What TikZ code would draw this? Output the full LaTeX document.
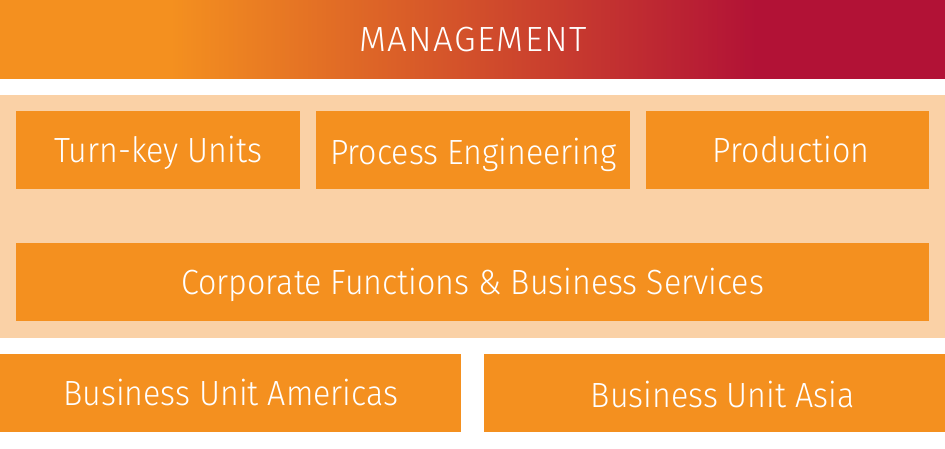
\documentclass[tikz,border=0pt]{standalone}
\usepackage{fontspec}
\setmainfont{Fira Sans}[UprightFont={* Light}, FakeStretch=0.92]
\newfontfamily\mgmtfont{Fira Sans}[UprightFont={* Light}, LetterSpace=4]
\definecolor{orng}{HTML}{F4901F}
\definecolor{lite}{HTML}{FAD1A6}
\definecolor{rd}{HTML}{B21236}
\pgfdeclarehorizontalshading{mgmt}{100bp}{color(0bp)=(orng); color(34bp)=(orng); color(65bp)=(rd); color(100bp)=(rd)}
\begin{document}
\begin{tikzpicture}[x=1pt,y=-1pt,
  box/.style={fill=orng, text=white, font=\fontsize{35}{40}\selectfont, inner sep=0pt,
    anchor=north west, text height=24pt, text depth=0pt, align=center}]
\useasboundingbox (0,0) rectangle (945,449);
\shade[shading=mgmt] (0,0) rectangle (945,79);
\node[text=white, font=\mgmtfont\fontsize{35}{40}\selectfont, text height=24pt, text depth=0pt, inner sep=0pt] (mgmt) at (473,39.5) {MANAGEMENT};
\fill[lite] (0,95) rectangle (945,338);
\node[box, minimum width=284pt, minimum height=78pt] (tku) at (16,111) {Turn-key Units};
\node[box, minimum width=314pt, minimum height=78pt, text height=28pt] (pe) at (316,111) {Process Engineering};
\node[box, minimum width=283pt, minimum height=78pt] (prod) at (646,111) {\hspace*{7pt}Production};
\node[box, minimum width=913pt, minimum height=78pt] (cfbs) at (16,243) {Corporate Functions \& Business Services};
\node[box, minimum width=461pt, minimum height=78pt] (bua) at (0,354) {Business Unit Americas};
\node[box, minimum width=461pt, minimum height=78pt, text height=29pt] (buas) at (484,354) {\hspace*{16pt}Business Unit Asia};
\end{tikzpicture}
\end{document}
